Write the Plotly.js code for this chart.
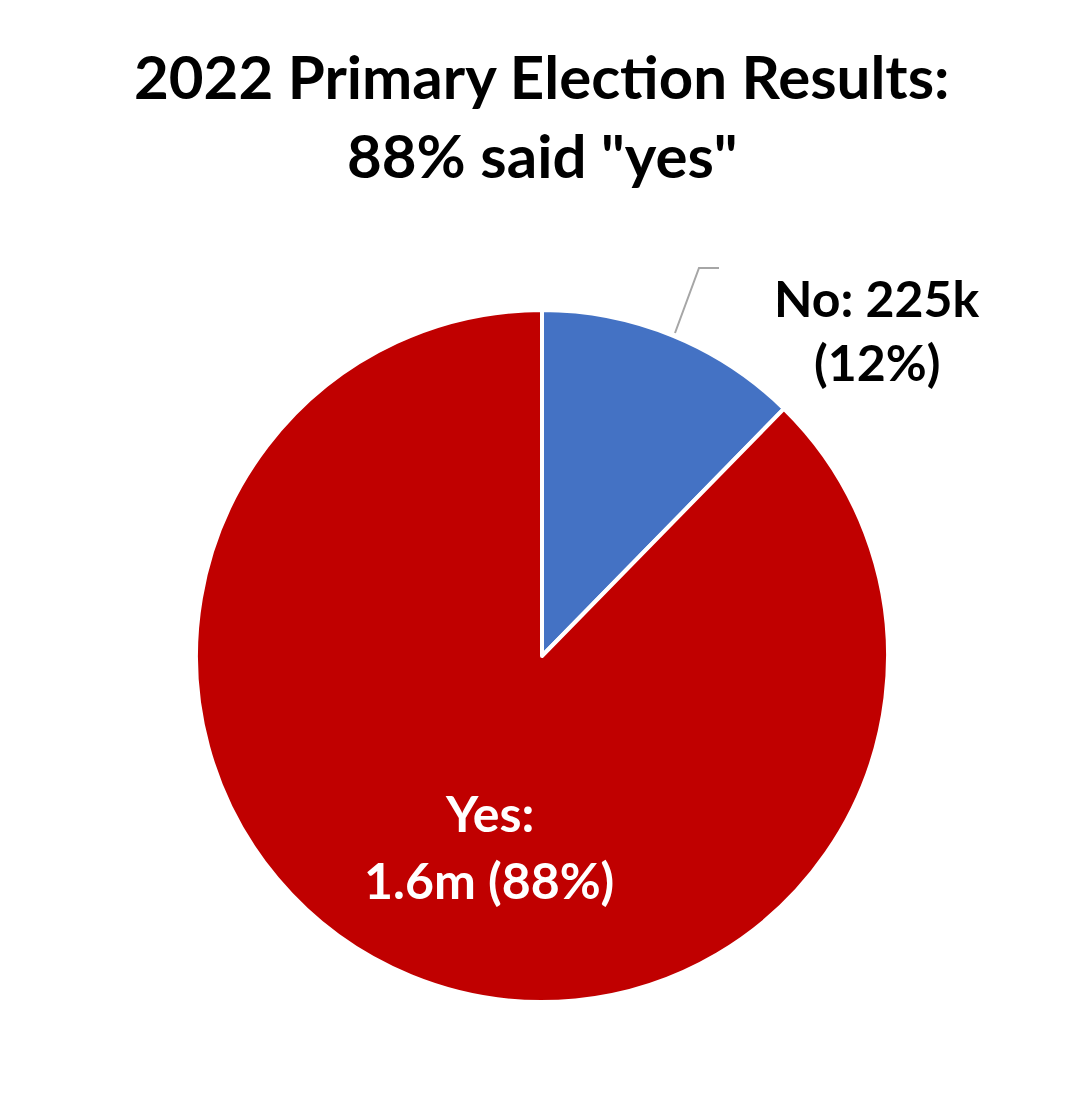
<!DOCTYPE html>
<html>
<head>
<meta charset="utf-8">
<script src="https://cdn.plot.ly/plotly-3.0.1.min.js"></script>
<style>html,body{margin:0;padding:0;background:#fff;}#chart{width:1085px;height:1111px;}</style>
</head>
<body>
<div id="chart"></div>
<script>
const titleLines = ['2022 Primary Election Results:', '88% said "yes"'];
const categories = ['No', 'Yes'];
const values = [225000, 1600000];
const valueLabels = ['225k', '1.6m'];
const sliceColors = ['#4472C4', '#C00000'];

const total = values.reduce((a, b) => a + b, 0);
const pct = values.map(v => Math.round(100 * v / total) + '%');

const FONT = 'Lato, "Open Sans", sans-serif';

const data = [{
  type: 'pie',
  labels: categories,
  values: values,
  sort: false,
  direction: 'clockwise',
  rotation: 0,
  textinfo: 'none',
  hoverinfo: 'label+value+percent',
  marker: { colors: sliceColors, line: { color: '#ffffff', width: 4 } },
  domain: { x: [196 / 1085, 888 / 1085], y: [109 / 1111, 801 / 1111] },
  showlegend: false
}];

const layout = {
  width: 1085,
  height: 1111,
  margin: { l: 0, r: 0, t: 0, b: 0 },
  paper_bgcolor: '#ffffff',
  showlegend: false,
  font: { family: FONT, color: '#000000' },
  annotations: [
    { text: '<b>' + titleLines[0] + '</b>', x: 542 / 1085, y: 1 - 76 / 1111, xref: 'paper', yref: 'paper',
      showarrow: false, font: { size: 60, color: '#000', family: FONT }, xanchor: 'center', yanchor: 'middle' },
    { text: '<b>' + titleLines[1] + '</b>', x: 542 / 1085, y: 1 - 155 / 1111, xref: 'paper', yref: 'paper',
      showarrow: false, font: { size: 60, color: '#000', family: FONT }, xanchor: 'center', yanchor: 'middle' },
    { text: '<b>' + categories[0] + ': ' + valueLabels[0] + '</b>', x: 877 / 1085, y: 1 - 298 / 1111, xref: 'paper', yref: 'paper',
      showarrow: false, font: { size: 50, color: '#000', family: FONT }, xanchor: 'center', yanchor: 'middle' },
    { text: '<b>(' + pct[0] + ')</b>', x: 877 / 1085, y: 1 - 362 / 1111, xref: 'paper', yref: 'paper',
      showarrow: false, font: { size: 50, color: '#000', family: FONT }, xanchor: 'center', yanchor: 'middle' },
    { text: '<b>' + categories[1] + ':</b>', x: 489 / 1085, y: 1 - 813 / 1111, xref: 'paper', yref: 'paper',
      showarrow: false, font: { size: 50, color: '#fff', family: FONT }, xanchor: 'center', yanchor: 'middle' },
    { text: '<b>' + valueLabels[1] + ' (' + pct[1] + ')</b>', x: 489 / 1085, y: 1 - 880 / 1111, xref: 'paper', yref: 'paper',
      showarrow: false, font: { size: 50, color: '#fff', family: FONT }, xanchor: 'center', yanchor: 'middle' }
  ],
  shapes: [
    { type: 'path', xref: 'paper', yref: 'paper',
      path: 'M ' + (675 / 1085) + ' ' + (1 - 333 / 1111) + ' L ' + (699 / 1085) + ' ' + (1 - 268 / 1111) + ' L ' + (719 / 1085) + ' ' + (1 - 268 / 1111),
      line: { color: '#A6A6A6', width: 2 } }
  ]
};

Plotly.newPlot('chart', data, layout, { displayModeBar: false, staticPlot: true });
</script>
</body>
</html>
